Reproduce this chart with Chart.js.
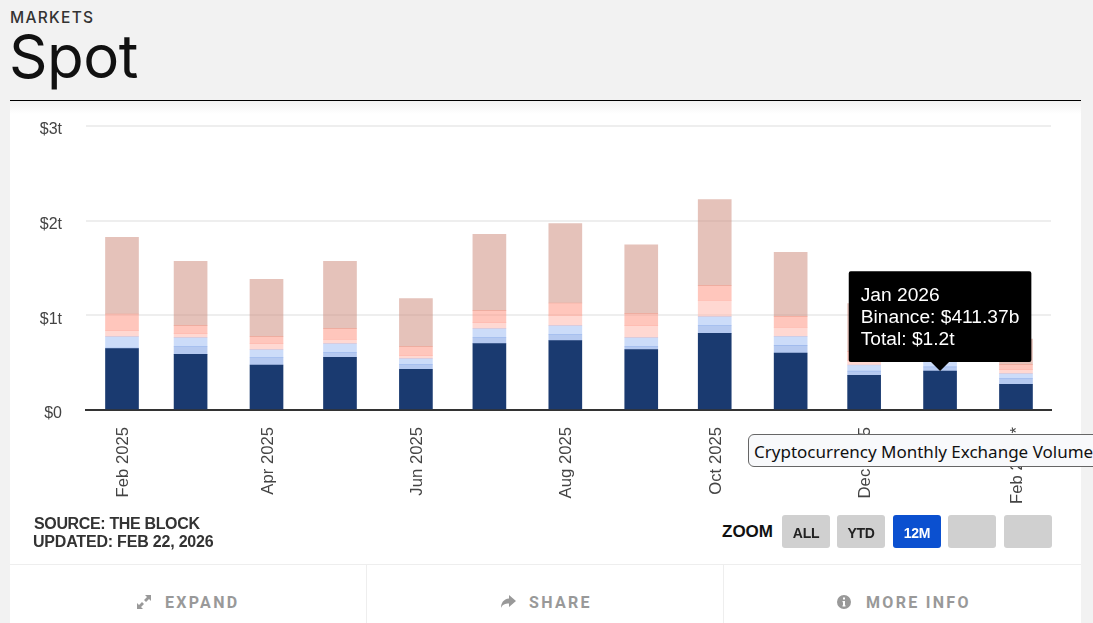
<!DOCTYPE html>
<html>
<head>
<meta charset="utf-8">
<title>Spot</title>
<script src="https://cdn.jsdelivr.net/npm/chart.js@4"></script>
<style>
  html, body { margin: 0; padding: 0; width: 1093px; height: 623px; overflow: hidden; background: #f2f2f2; }
  body { position: relative; font-family: "Liberation Sans", sans-serif; }
  .abs { position: absolute; white-space: nowrap; }
  #card { position: absolute; left: 10px; top: 101px; width: 1071px; height: 522px; background: linear-gradient(#f2f2f2 0, #ffffff 13px); }
  #chart { position: absolute; left: 0; top: 0; }
  #eyebrow { left: 10px; top: 8px; font: 500 15.5px Inter, sans-serif; letter-spacing: 1.3px; color: #333; }
  #title { left: 9px; top: 19px; font: 400 60px Inter, sans-serif; letter-spacing: -0.5px; color: #111; line-height: 74px; }
  #rule { position: absolute; left: 10px; top: 100px; width: 1071px; height: 1px; background: #000; }
  #source { left: 33px; top: 515px; font: bold 16px/18px "Liberation Sans", sans-serif; letter-spacing: -0.2px; color: #333; text-align: left; }
  #source div:first-child { margin-left: 1px; letter-spacing: -0.35px; }
  #zoomlabel { left: 722px; top: 522px; font: bold 17px "Liberation Sans", sans-serif; color: #111; }
  .btn { position: absolute; top: 515px; width: 48px; height: 33px; background: #d0d0d0; border-radius: 3px; font: bold 14px/37px "Liberation Sans", sans-serif; letter-spacing: -0.3px; color: #222; text-align: center; }
  .btn.on { background: #0b50d0; color: #fff; }
  .hline { position: absolute; left: 10px; top: 564px; width: 1071px; height: 1px; background: #eeeeee; }
  .vline { position: absolute; top: 565px; width: 1px; height: 58px; background: #eeeeee; }
  .foot { top: 593px; font: 700 16px Roboto, sans-serif; letter-spacing: 2.3px; color: #999; }
  svg.abs { fill: #999; }
  #hint { left: 748px; top: 434px; width: 360px; height: 31px; box-sizing: content-box; border: 1px solid #666; border-radius: 6px; background: #f8f9fb; font: 400 17px/33px "Noto Sans", sans-serif; color: #111; padding-left: 5px; }
</style>
</head>
<body>
<div id="card"></div>
<div id="rule"></div>
<div class="abs" id="eyebrow">MARKETS</div>
<div class="abs" id="title">Spot</div>
<canvas id="chart" width="1093" height="520" style="width:1093px;height:520px"></canvas>
<div class="abs" id="source"><div>SOURCE: THE BLOCK</div><div>UPDATED: FEB 22, 2026</div></div>
<div class="abs" id="zoomlabel">ZOOM</div>
<div class="btn" style="left:782px">ALL</div>
<div class="btn" style="left:837px">YTD</div>
<div class="btn on" style="left:893px">12M</div>
<div class="btn" style="left:948px"></div>
<div class="btn" style="left:1004px"></div>
<div class="hline"></div>
<div class="vline" style="left:366px"></div>
<div class="vline" style="left:723px"></div>
<svg class="abs" style="left:137px;top:595px" width="14" height="14" viewBox="0 0 14 14"><path d="M8 0h6v6l-2-2-3 3-2-2 3-3zM0 14V8l2 2 3-3 2 2-3 3 2 2z"/></svg>
<div class="abs foot" style="left:165px">EXPAND</div>
<svg class="abs" style="left:500px;top:595px" width="16" height="14" viewBox="0 0 16 14"><path d="M9 0l7 6-7 6V8.500C5 8.500 2.500 9.500 1 13 1 8 3.500 4 9 3.500z"/></svg>
<div class="abs foot" style="left:529px">SHARE</div>
<svg class="abs" style="left:837px;top:595px" width="14" height="14" viewBox="0 0 14 14"><path fill-rule="evenodd" d="M7 0a7 7 0 1 1 0 14A7 7 0 0 1 7 0zM6 2.500v2h2v-2zM5.500 6v1.200H6v3h-.5v1.300h3v-1.300H8V6z"/></svg>
<div class="abs foot" style="left:866px">MORE INFO</div>
<div class="abs" id="hint">Cryptocurrency Monthly Exchange Volume</div>

<script>
// month starts, the x axis is a real date axis so the spacing follows month length
const months = ["2025-02-01", "2025-03-01", "2025-04-01", "2025-05-01", "2025-06-01", "2025-07-01", "2025-08-01", "2025-09-01", "2025-10-01", "2025-11-01", "2025-12-01", "2026-01-01", "2026-02-01"];
const monthNames = ["Feb 2025", "Mar 2025", "Apr 2025", "May 2025", "Jun 2025", "Jul 2025", "Aug 2025", "Sep 2025", "Oct 2025", "Nov 2025", "Dec 2025", "Jan 2026", "Feb 2026*"];
const xTickMonths = ["2025-02-01", "2025-04-01", "2025-06-01", "2025-08-01", "2025-10-01", "2025-12-01", "2026-02-01"];
const xTickLabels = ["Feb 2025", "Apr 2025", "Jun 2025", "Aug 2025", "Oct 2025", "Dec 2025", "Feb 2026*"];
const yTickLabels = ["$0", "$1t", "$2t", "$3t"];

// monthly volume in $b, stacked from the bottom
const binance = [648, 588, 475, 556, 430, 701, 732, 637, 810, 602, 366, 411.37, 271];
const exchange2 = [7, 81, 78, 50, 49, 63, 64, 32, 81, 81, 45, 45, 60];
const exchange3 = [120, 95, 84, 95, 63, 95, 95, 95, 95, 95, 64, 70, 53];
const exchange4 = [63, 42, 64, 45, 32, 64, 109, 127, 172, 95, 45, 60, 42];
const exchange5 = [176, 85, 74, 113, 95, 126, 130, 127, 155, 116, 100, 110, 53];
const others = [810, 679, 605, 711, 507, 807, 838, 728, 909, 676, 503, 503.63, 270];

const seriesList = [binance, exchange2, exchange3, exchange4, exchange5, others];
const seriesNames = ["Binance", "Exchange 2", "Exchange 3", "Exchange 4", "Exchange 5", "Others"];
const seriesColors = ["#1a3a70", "rgba(107,147,225,.5)", "rgba(153,185,243,.5)", "rgba(255,177,165,.5)", "rgba(255,141,121,.5)", "rgba(203,133,117,.5)"];

const HOVER_INDEX = 11;
const DAY = 86400000;

function monthTotal(i) {
  return seriesList.reduce((sum, s) => sum + s[i], 0);
}

const chart = new Chart("chart", {
  type: "bar",
  data: {
    datasets: seriesList.map((values, s) => ({
      label: seriesNames[s],
      data: values.map((v, i) => ({ x: Date.parse(months[i]), y: v / 1000 })),
      backgroundColor: seriesColors[s],
      barThickness: 33
    }))
  },
  options: {
    responsive: false,
    animation: false,
    events: [],
    layout: { padding: { top: 126, right: 42, left: 0, bottom: 0 } },
    plugins: {
      legend: { display: false },
      title: { display: false },
      tooltip: {
        enabled: true,
        yAlign: "bottom",
        backgroundColor: "#000",
        titleColor: "#fff",
        bodyColor: "#fff",
        titleFont: { family: "Liberation Sans", size: 19.2, weight: "normal", lineHeight: 1.16 },
        bodyFont: { family: "Liberation Sans", size: 19.2, lineHeight: 1.16 },
        titleMarginBottom: 0,
        bodySpacing: 0,
        padding: { top: 13, bottom: 11, left: 12, right: 12 },
        cornerRadius: 2,
        caretSize: 9,
        caretPadding: 0,
        displayColors: false,
        callbacks: {
          title: items => monthNames[items[0].dataIndex],
          label: item => [
            `Binance: $${binance[item.dataIndex]}b`,
            `Total: $${(monthTotal(item.dataIndex) / 1000).toFixed(1)}t`
          ]
        }
      }
    },
    scales: {
      x: {
        type: "linear",
        offset: false,
        stacked: true,
        min: Date.parse(months[0]) - 14.7 * DAY,
        max: Date.parse(months[12]) + 14.3 * DAY,
        afterBuildTicks: scale => {
          scale.ticks = xTickMonths.map(m => ({ value: Date.parse(m) }));
        },
        afterFit: scale => { scale.height = 110; },
        grid: { display: false, drawTicks: false, offset: false },
        border: { display: true, color: "#333", width: 2 },
        ticks: {
          autoSkip: false,
          minRotation: 90,
          maxRotation: 90,
          padding: 17,
          labelOffset: 1.5,
          color: "#444",
          font: { family: "Liberation Sans", size: 16.7 },
          callback: value => xTickLabels[xTickMonths.findIndex(m => Date.parse(m) === value)]
        }
      },
      y: {
        stacked: true,
        min: 0,
        max: 3,
        afterFit: scale => { scale.width = 86; },
        grid: { color: "#eeeeee", lineWidth: 2, drawTicks: false },
        border: { display: false },
        ticks: {
          stepSize: 1,
          padding: 24,
          labelOffset: 4,
          color: "#444",
          font: { family: "Liberation Sans", size: 16 },
          callback: value => yTickLabels[value]
        }
      }
    }
  }
});

chart.tooltip.setActiveElements([{ datasetIndex: 0, index: HOVER_INDEX }], { x: 0, y: 0 });
chart.update();
</script>
</body>
</html>
